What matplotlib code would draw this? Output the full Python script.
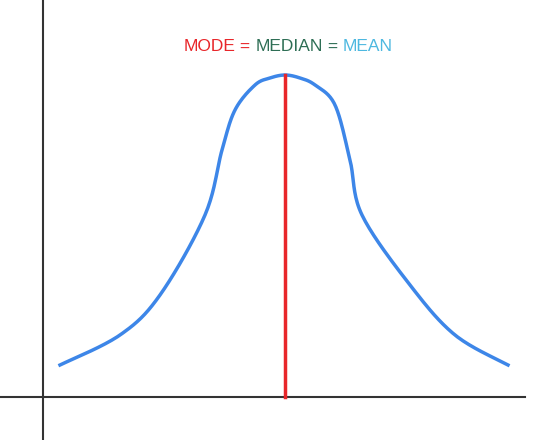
import matplotlib
matplotlib.use("Agg")
import matplotlib.pyplot as plt
import numpy as np

x_vals = [60, 120, 160, 205, 222, 235, 255, 270, 285, 300, 315, 335, 350, 362, 410, 455, 508]
y_vals = [75, 105, 145, 225, 290, 330, 355, 362, 365, 362, 355, 335, 280, 225, 155, 105, 75]
center = 285
peak = 365
title_parts = ["MODE", " = ", "MEDIAN", " = ", "MEAN"]
title_colors = ["#e8262a", "#e8262a", "#2e6e55", "#2e6e55", "#4db8e0"]


def catmull_rom(xs, ys, n=20):
    p = np.column_stack([xs, ys]).astype(float)
    p = np.vstack([p[0], p, p[-1]])
    out = []
    for i in range(1, len(p) - 2):
        p0, p1, p2, p3 = p[i - 1], p[i], p[i + 1], p[i + 2]
        t = np.linspace(0, 1, n, endpoint=False)[:, None]
        out.append(0.5 * ((2 * p1) + (-p0 + p2) * t + (2 * p0 - 5 * p1 + 4 * p2 - p3) * t ** 2
                          + (-p0 + 3 * p1 - 3 * p2 + p3) * t ** 3))
    out.append(p[-2][None, :])
    a = np.vstack(out)
    return a[:, 0], a[:, 1]


fig = plt.figure(figsize=(5.45, 4.4), dpi=100)
ax = fig.add_axes([0, 0, 1, 1])
ax.set_xlim(0, 545)
ax.set_ylim(0, 440)
ax.axis("off")

ax.plot([43, 43], [0, 440], color="#333333", lw=1.5)
ax.plot([0, 525], [43, 43], color="#333333", lw=1.5)
sx, sy = catmull_rom(x_vals, y_vals)
ax.plot(sx, sy, color="#3d86e8", lw=2.5, solid_joinstyle="round")
ax.plot([center, center], [43, peak], color="#e8262a", lw=2.5)

fig.canvas.draw()
r = fig.canvas.get_renderer()
texts = []
for s, c in zip(title_parts, title_colors):
    texts.append(ax.text(0, 394, s, color=c, fontsize=12.5, family="Liberation Sans", va="center"))
widths = [t.get_window_extent(r).width for t in texts]
total = sum(widths)
xpos = 288 - total / 2
for t, w in zip(texts, widths):
    t.set_x(xpos)
    xpos += w
fig.savefig("out.png", dpi=100)
